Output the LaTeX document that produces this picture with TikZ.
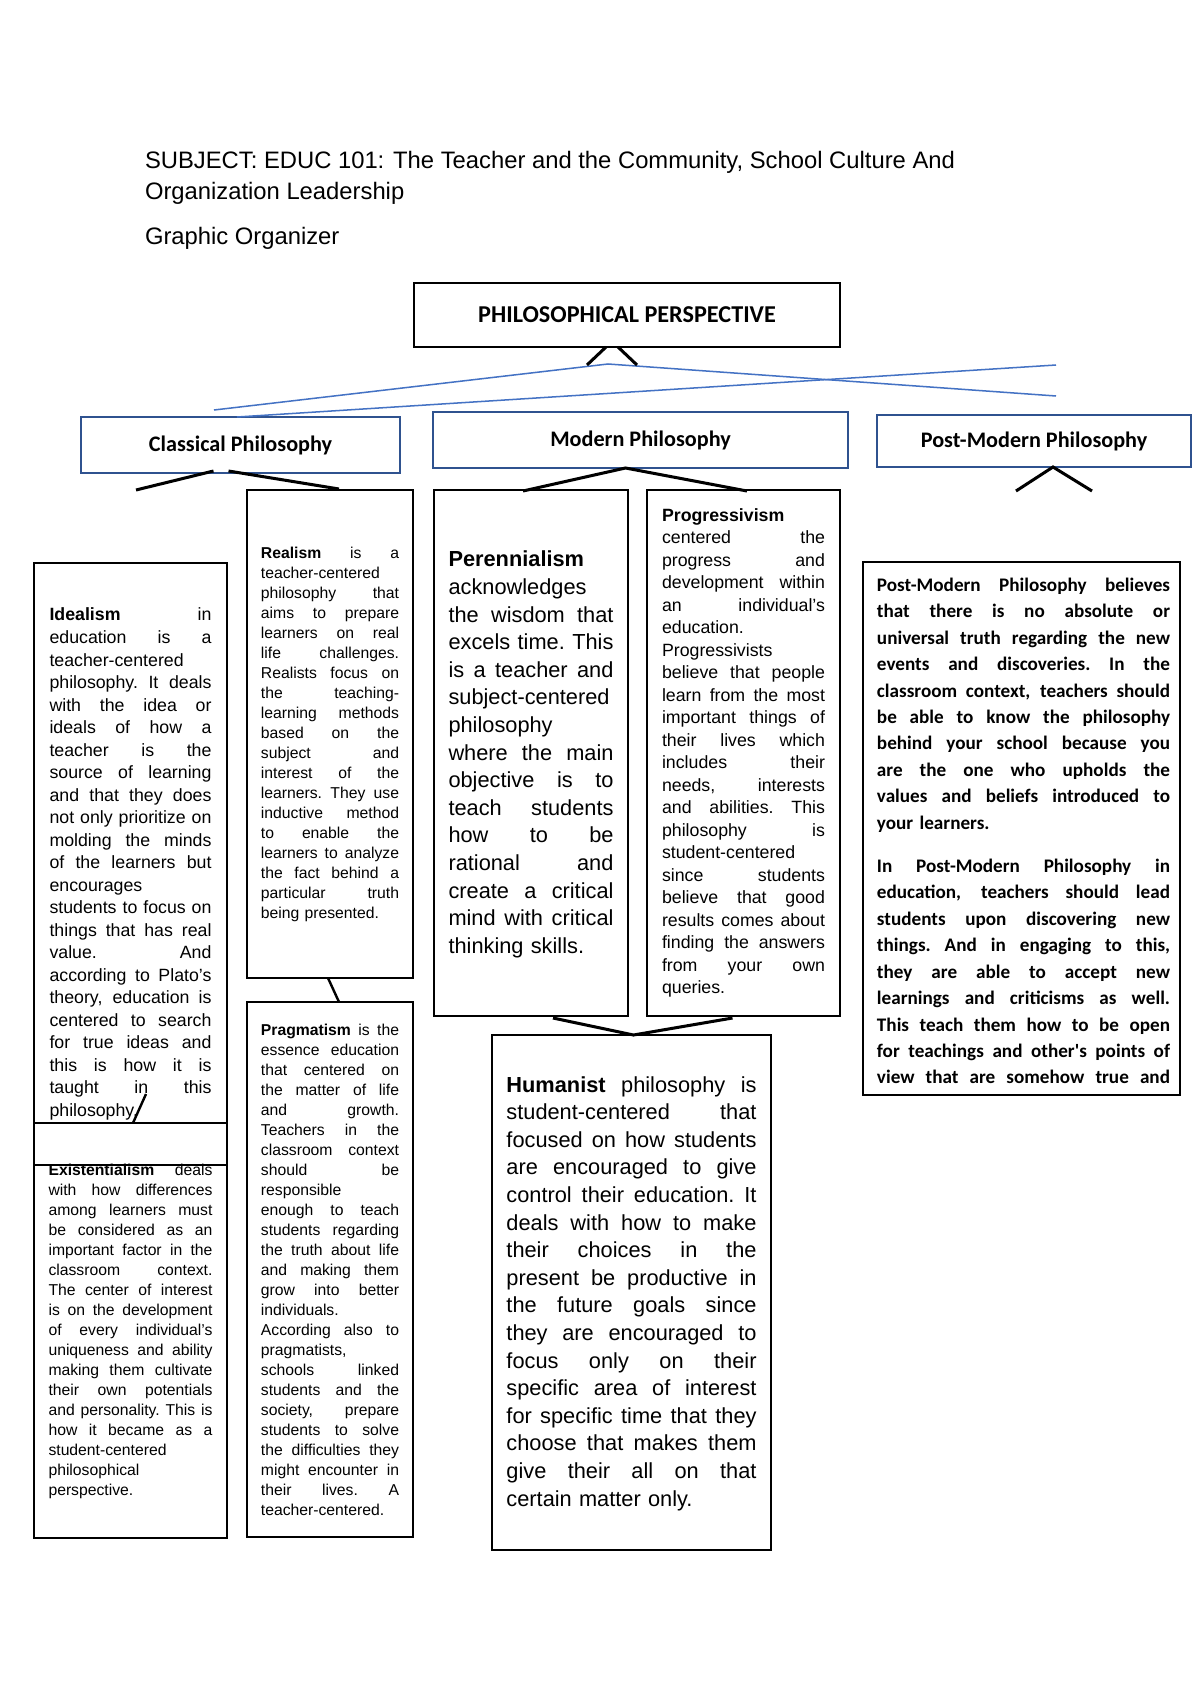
\documentclass[tikz,border=0pt]{standalone}
\usepackage{fontspec}
\setmainfont{Liberation Sans}
\newfontfamily\calibri{Carlito}
\usepackage{tikz}
\usetikzlibrary{calc,fit}
\definecolor{shapeblue}{RGB}{47,82,143}
\definecolor{lineblue}{RGB}{68,114,196}

% one printed line, justified or flush left
\newlength{\rowwidth}
\newcommand{\jline}[1]{\hbox to \rowwidth{\spaceskip=\fontdimen2\font plus 1fil minus \fontdimen4\font\xspaceskip=\spaceskip #1}\par}
\newcommand{\lline}[1]{\hbox to \rowwidth{#1\hfil}\par}

\begin{document}
\begin{tikzpicture}[x=0.4958pt, y=-0.4958pt,
    every node/.style={inner sep=0pt, outer sep=0pt},
    headbox/.style={draw=shapeblue, line width=1.2pt},
    headlabel/.style={font=\calibri\bfseries\fontsize{11}{13}\selectfont},
    textbox/.style={draw, line width=1pt},
    caret/.style={line width=1.5pt},
    crossline/.style={draw=lineblue, line width=0.75pt},
    rows/.style={text width=#1, execute at begin node={\setlength{\rowwidth}{#1}}},
    narrowtext/.style={font=\fontsize{7.8}{9.92}\selectfont},
    midtext/.style={font=\fontsize{8.8}{11.16}\selectfont},
    widetext/.style={font=\fontsize{10.8}{13.68}\selectfont},
    titletext/.style={anchor=base west, font=\fontsize{11.8}{14}\selectfont}]

\fill[white] (0,0) rectangle (1200,1698);
\useasboundingbox (0,0) rectangle (1200,1698);

% heading
\node[titletext] (subject) at (145,168) {SUBJECT: EDUC 101: The Teacher and the Community, School Culture And};
\node[titletext] (subjectcont) at (145,199) {Organization Leadership};
\node[titletext] (organizer) at (145,244) {Graphic Organizer};

% top and second level
\node[draw, line width=1.2pt, fit={(414,283) (840,347)}] (persp) {};
\node[font=\calibri\bfseries\fontsize{12}{14}\selectfont] (persplabel) at (persp.center) {PHILOSOPHICAL PERSPECTIVE};
\node[headbox, fit={(81,417) (400,473)}] (classical) {};
\node[headlabel] (classlabel) at (classical.center) {Classical Philosophy};
\node[headbox, fit={(433,412) (848,468)}] (modern) {};
\node[headlabel] (modlabel) at (modern.center) {Modern Philosophy};
\node[headbox, fit={(877,415) (1191,467)}] (postmodern) {};
\node[headlabel] (postlabel) at (postmodern.center) {Post-Modern Philosophy};

% crossing lines under the top box
\coordinate (leftA) at (214,410);
\coordinate (peak) at (608,364);
\coordinate (rightA) at (1056,396);
\coordinate (leftB) at (237,417);
\coordinate (rightB) at (1056,365);
\draw[crossline] (leftA) -- (peak) -- (rightA);
\draw[crossline] (leftB) -- (rightB);

% text boxes
\node[textbox, fit={(34,563) (227,1123)}] (ideal) {};
\node[textbox, fit={(34,1123) (227,1165)}] (gap) {};
\node[textbox, fit={(34,1165) (227,1538)}] (exist) {};
\node[textbox, fit={(247,490) (413,978)}] (real) {};
\node[textbox, fit={(247,1002) (413,1537)}] (prag) {};
\node[textbox, fit={(434,490) (628,1016)}] (peren) {};
\node[textbox, fit={(647,490) (840,1016)}] (prog) {};
\node[textbox, fit={(492,1035) (771,1550)}] (human) {};
\node[textbox, fit={(863,562) (1180,1095)}] (postbox) {};

% carets
\coordinate (perspL) at (587,365);
\coordinate (perspR) at (637,365);
\draw[caret] (perspL) -- ($(persp.south)+(-21,0)$);
\draw[caret] ($(persp.south)+(-9,0)$) -- (perspR);
\coordinate (classL) at (136,490);
\coordinate (classR) at (339,489);
\draw[caret] (classL) -- ($(classical.south)+(-27,-2)$);
\draw[caret] ($(classical.south)+(-12,-2)$) -- (classR);
\coordinate (modL) at (523,491);
\coordinate (modR) at (747,491);
\draw[caret] (modL) -- ($(modern.south)+(-15,0)$) -- (modR);
\coordinate (postL) at (1016,491);
\coordinate (postR) at (1092,491);
\draw[caret] (postL) -- ($(postmodern.south)+(19,0)$) -- (postR);
\draw[caret] ($(peren.south)+(22,2)$) -- ($(human.north)+(2,0)$) -- ($(prog.south)+(-11,2)$);
\draw[line width=1.2pt] ($(real.south)+(-2,0)$) -- ($(prag.north)+(9,0)$);
\coordinate (idealtick) at (146,1094);
\draw[line width=1.2pt] (idealtick) -- ($(ideal.south)+(2.5,0)$);

% texts
\node[midtext, rows=80.3pt] (idealtxt) at ($(ideal.center)+(0,21)$) {
\jline{\textbf{Idealism} in}
\jline{education is a}
\lline{teacher-centered}
\jline{philosophy. It deals}
\jline{with the idea or}
\jline{ideals of how a}
\jline{teacher is the}
\jline{source of learning}
\jline{and that they does}
\jline{not only prioritize on}
\jline{molding the minds}
\jline{of the learners but}
\lline{encourages}
\jline{students to focus on}
\jline{things that has real}
\jline{value. And}
\jline{according to Plato's}
\jline{theory, education is}
\jline{centered to search}
\jline{for true ideas and}
\jline{this is how it is}
\jline{taught in this}
\lline{philosophy.}
};

\node[narrowtext, rows=81.3pt] (existtxt) at ($(exist.center)+(0,-20)$) {
\jline{\textbf{Existentialism} deals}
\jline{with how differences}
\jline{among learners must}
\jline{be considered as an}
\jline{important factor in the}
\jline{classroom context.}
\jline{The center of interest}
\jline{is on the development}
\jline{of every individual's}
\jline{uniqueness and ability}
\jline{making them cultivate}
\jline{their own potentials}
\jline{and personality. This is}
\jline{how it became as a}
\lline{student-centered}
\lline{philosophical}
\lline{perspective.}
};

\node[narrowtext, rows=68.5pt] (realtxt) at (real.center) {
\jline{\textbf{Realism} is a}
\lline{teacher-centered}
\jline{philosophy that}
\jline{aims to prepare}
\jline{learners on real}
\jline{life challenges.}
\jline{Realists focus on}
\jline{the teaching-}
\jline{learning methods}
\jline{based on the}
\jline{subject and}
\jline{interest of the}
\jline{learners. They use}
\jline{inductive method}
\jline{to enable the}
\jline{learners to analyze}
\jline{the fact behind a}
\jline{particular truth}
\lline{being presented.}
};

\node[narrowtext, rows=68.5pt] (pragtxt) at (prag.center) {
\jline{\textbf{Pragmatism} is the}
\jline{essence education}
\jline{that centered on}
\jline{the matter of life}
\jline{and growth.}
\jline{Teachers in the}
\jline{classroom context}
\jline{should be}
\lline{responsible}
\jline{enough to teach}
\jline{students regarding}
\jline{the truth about life}
\jline{and making them}
\jline{grow into better}
\lline{individuals.}
\jline{According also to}
\lline{pragmatists,}
\jline{schools linked}
\jline{students and the}
\jline{society, prepare}
\jline{students to solve}
\jline{the difficulties they}
\jline{might encounter in}
\jline{their lives. A}
\lline{teacher-centered.}
};

\node[widetext, rows=81.8pt] (perentxt) at ($(peren.center)+(0,1.5)$) {
\lline{\textbf{Perennialism}}
\lline{acknowledges}
\jline{the wisdom that}
\jline{excels time. This}
\jline{is a teacher and}
\lline{subject-centered}
\lline{philosophy}
\jline{where the main}
\jline{objective is to}
\jline{teach students}
\jline{how to be}
\jline{rational and}
\jline{create a critical}
\jline{mind with critical}
\lline{thinking skills.}
};

\node[midtext, rows=80.8pt] (progtxt) at (prog.center) {
\lline{\textbf{Progressivism}}
\jline{centered the}
\jline{progress and}
\jline{development within}
\jline{an individual's}
\lline{education.}
\lline{Progressivists}
\jline{believe that people}
\jline{learn from the most}
\jline{important things of}
\jline{their lives which}
\jline{includes their}
\jline{needs, interests}
\jline{and abilities. This}
\jline{philosophy is}
\lline{student-centered}
\jline{since students}
\jline{believe that good}
\jline{results comes about}
\jline{finding the answers}
\jline{from your own}
\lline{queries.}
};

\node[widetext, rows=124pt] (humantxt) at ($(human.center)+(0,1)$) {
\jline{\textbf{Humanist} philosophy is}
\jline{student-centered that}
\jline{focused on how students}
\jline{are encouraged to give}
\jline{control their education. It}
\jline{deals with how to make}
\jline{their choices in the}
\jline{present be productive in}
\jline{the future goals since}
\jline{they are encouraged to}
\jline{focus only on their}
\jline{specific area of interest}
\jline{for specific time that they}
\jline{choose that makes them}
\jline{give their all on that}
\lline{certain matter only.}
};

\node[font=\calibri\bfseries\fontsize{9.5}{13.1}\selectfont, rows=145.3pt] (posttxt) at ($(postbox.center)+(2,2.5)$) {
\jline{Post-Modern Philosophy believes}
\jline{that there is no absolute or}
\jline{universal truth regarding the new}
\jline{events and discoveries. In the}
\jline{classroom context, teachers should}
\jline{be able to know the philosophy}
\jline{behind your school because you}
\jline{are the one who upholds the}
\jline{values and beliefs introduced to}
\lline{your learners.}
\vspace{8.4pt}
\jline{In Post-Modern Philosophy in}
\jline{education, teachers should lead}
\jline{students upon discovering new}
\jline{things. And in engaging to this,}
\jline{they are able to accept new}
\jline{learnings and criticisms as well.}
\jline{This teach them how to be open}
\jline{for teachings and other's points of}
\jline{view that are somehow true and}
};
\end{tikzpicture}
\end{document}
